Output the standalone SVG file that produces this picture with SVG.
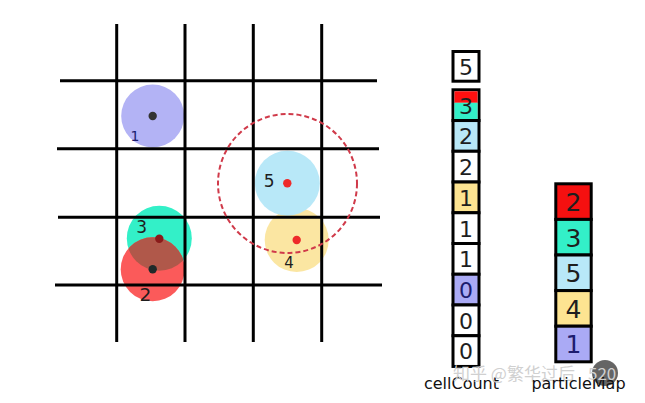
<svg xmlns="http://www.w3.org/2000/svg" width="645" height="403" viewBox="0 0 645 403">
<style>
.g{stroke:#000;stroke-width:3;fill:none}
.cell{stroke:#000;stroke-width:3}
.d{font-family:"DejaVu Sans","Verdana",sans-serif;text-anchor:middle;fill:#1e1e1e}
.n{fill:#1c1c6e}
.lab{font-family:"DejaVu Sans","Verdana",sans-serif;font-size:16px;fill:#111;text-anchor:middle}
.wm{font-family:"Noto Sans CJK SC","DejaVu Sans",sans-serif;font-size:17px;fill:#d0d0d0}
</style>
<defs>
<clipPath id="c3"><circle cx="159.3" cy="238.3" r="32.5"/></clipPath>
</defs>
<rect width="645" height="403" fill="#fff"/>
<g id="particle1">
<circle cx="152.7" cy="116" r="31.5" fill="#b3b3f5"/>
</g>
<g id="particle3">
<circle cx="159.3" cy="238.3" r="32.5" fill="#33f0c8"/>
</g>
<g id="particle2">
<circle cx="152.7" cy="269.3" r="32" fill="#fb5a5a"/>
<circle cx="152.7" cy="269.3" r="32" fill="#b0584a" clip-path="url(#c3)"/>
</g>
<g id="particle4">
<circle cx="296.7" cy="240" r="32" fill="#fbe6a2"/>
</g>
<g id="particle5">
<circle cx="287.3" cy="183.3" r="32.5" fill="#b8e8f8"/>
</g>
<g id="grid">
<line class="g" x1="60" y1="80.7" x2="377" y2="80.7"/>
<line class="g" x1="57" y1="148.7" x2="379" y2="148.7"/>
<line class="g" x1="58" y1="217.3" x2="380" y2="217.3"/>
<line class="g" x1="55" y1="285" x2="382" y2="285"/>
<line class="g" x1="116.7" y1="24" x2="116.7" y2="342"/>
<line class="g" x1="185" y1="24" x2="185" y2="342"/>
<line class="g" x1="253.3" y1="24" x2="253.3" y2="342"/>
<line class="g" x1="321.7" y1="24" x2="321.7" y2="342"/>
</g>
<g id="dots">
<circle cx="152.7" cy="116" r="4.2" fill="#333"/>
<circle cx="159.3" cy="238.8" r="4.2" fill="#8a1a1a"/>
<circle cx="152.7" cy="269.3" r="4.2" fill="#1f2a2a"/>
<circle cx="287.3" cy="183.3" r="4.2" fill="#ee2a2a"/>
<circle cx="296.7" cy="240" r="4.2" fill="#ee2a2a"/>
</g>
<g id="particle-labels">
<text class="d n" x="135" y="141" font-size="14">1</text>
<text class="d" x="141.7" y="233.3" font-size="17">3</text>
<text class="d" x="145.3" y="301" font-size="18.5">2</text>
<text class="d" x="269.2" y="186.7" font-size="17">5</text>
<text class="d" x="289" y="268.3" font-size="15">4</text>
</g>
<g id="connectors">
<circle cx="287.5" cy="183.5" r="69.5" fill="none" stroke="#d03a4a" stroke-width="2" stroke-dasharray="5 3"/>
</g>
<g id="cellCount-total">
<rect class="cell" x="453" y="51.5" width="26" height="29.7" fill="#fff"/>
<text class="d" x="466" y="74.5" font-size="22">5</text>
</g>
<g id="cellCount">
<rect class="cell" x="453" y="89.8" width="26" height="30.74" fill="#fff"/>
<rect x="454.5" y="91.3" width="23" height="11.5" fill="#ff1010"/>
<rect x="454.5" y="102.8" width="23" height="16.2" fill="#33f0c8"/>
<rect class="cell" x="453" y="120.54" width="26" height="30.74" fill="#b8e8f8"/>
<rect class="cell" x="453" y="151.28" width="26" height="30.74" fill="#fff"/>
<rect class="cell" x="453" y="182.02" width="26" height="30.74" fill="#fde491"/>
<rect class="cell" x="453" y="212.76" width="26" height="30.74" fill="#fff"/>
<rect class="cell" x="453" y="243.5" width="26" height="30.74" fill="#fff"/>
<rect class="cell" x="453" y="274.24" width="26" height="30.74" fill="#aaaaf5"/>
<rect class="cell" x="453" y="304.98" width="26" height="30.74" fill="#fff"/>
<rect class="cell" x="453" y="335.72" width="26" height="30.74" fill="#fff"/>
<text class="d" x="466" y="113.5" font-size="22" fill="#5a1010">3</text>
<text class="d" x="466" y="144.2" font-size="22">2</text>
<text class="d" x="466" y="175" font-size="22">2</text>
<text class="d" x="466" y="205.7" font-size="22">1</text>
<text class="d" x="466" y="236.5" font-size="22">1</text>
<text class="d" x="466" y="267.2" font-size="22">1</text>
<text class="d n" x="466" y="297.9" font-size="22">0</text>
<text class="d" x="466" y="328.7" font-size="22">0</text>
<text class="d" x="466" y="359.4" font-size="22">0</text>
</g>
<g id="particleMap">
<rect class="cell" x="555.8" y="183.8" width="35.4" height="35.6" fill="#f51010"/>
<rect class="cell" x="555.8" y="219.4" width="35.4" height="35.6" fill="#33f0c8"/>
<rect class="cell" x="555.8" y="255" width="35.4" height="35.6" fill="#b8e8f8"/>
<rect class="cell" x="555.8" y="290.6" width="35.4" height="35.6" fill="#fde491"/>
<rect class="cell" x="555.8" y="326.2" width="35.4" height="35.6" fill="#aaaaf5"/>
<text class="d" x="573.5" y="211" font-size="25" fill="#3a0808">2</text>
<text class="d" x="573.5" y="246.6" font-size="25">3</text>
<text class="d" x="573.5" y="282.2" font-size="25">5</text>
<text class="d" x="573.5" y="317.8" font-size="25">4</text>
<text class="d n" x="573.5" y="353.4" font-size="25">1</text>
</g>
<g id="labels">
<text class="lab" x="461.5" y="389">cellCount</text>
<text class="wm" x="453" y="380">知乎 @繁华过后</text>
<circle cx="605" cy="373" r="13" fill="#4a4a4a" opacity="0.85"/>
<text class="lab" x="578.5" y="389">particleMap</text>
<text class="wm" x="588" y="380" fill="#e0e0e0">520</text>
</g>
</svg>
